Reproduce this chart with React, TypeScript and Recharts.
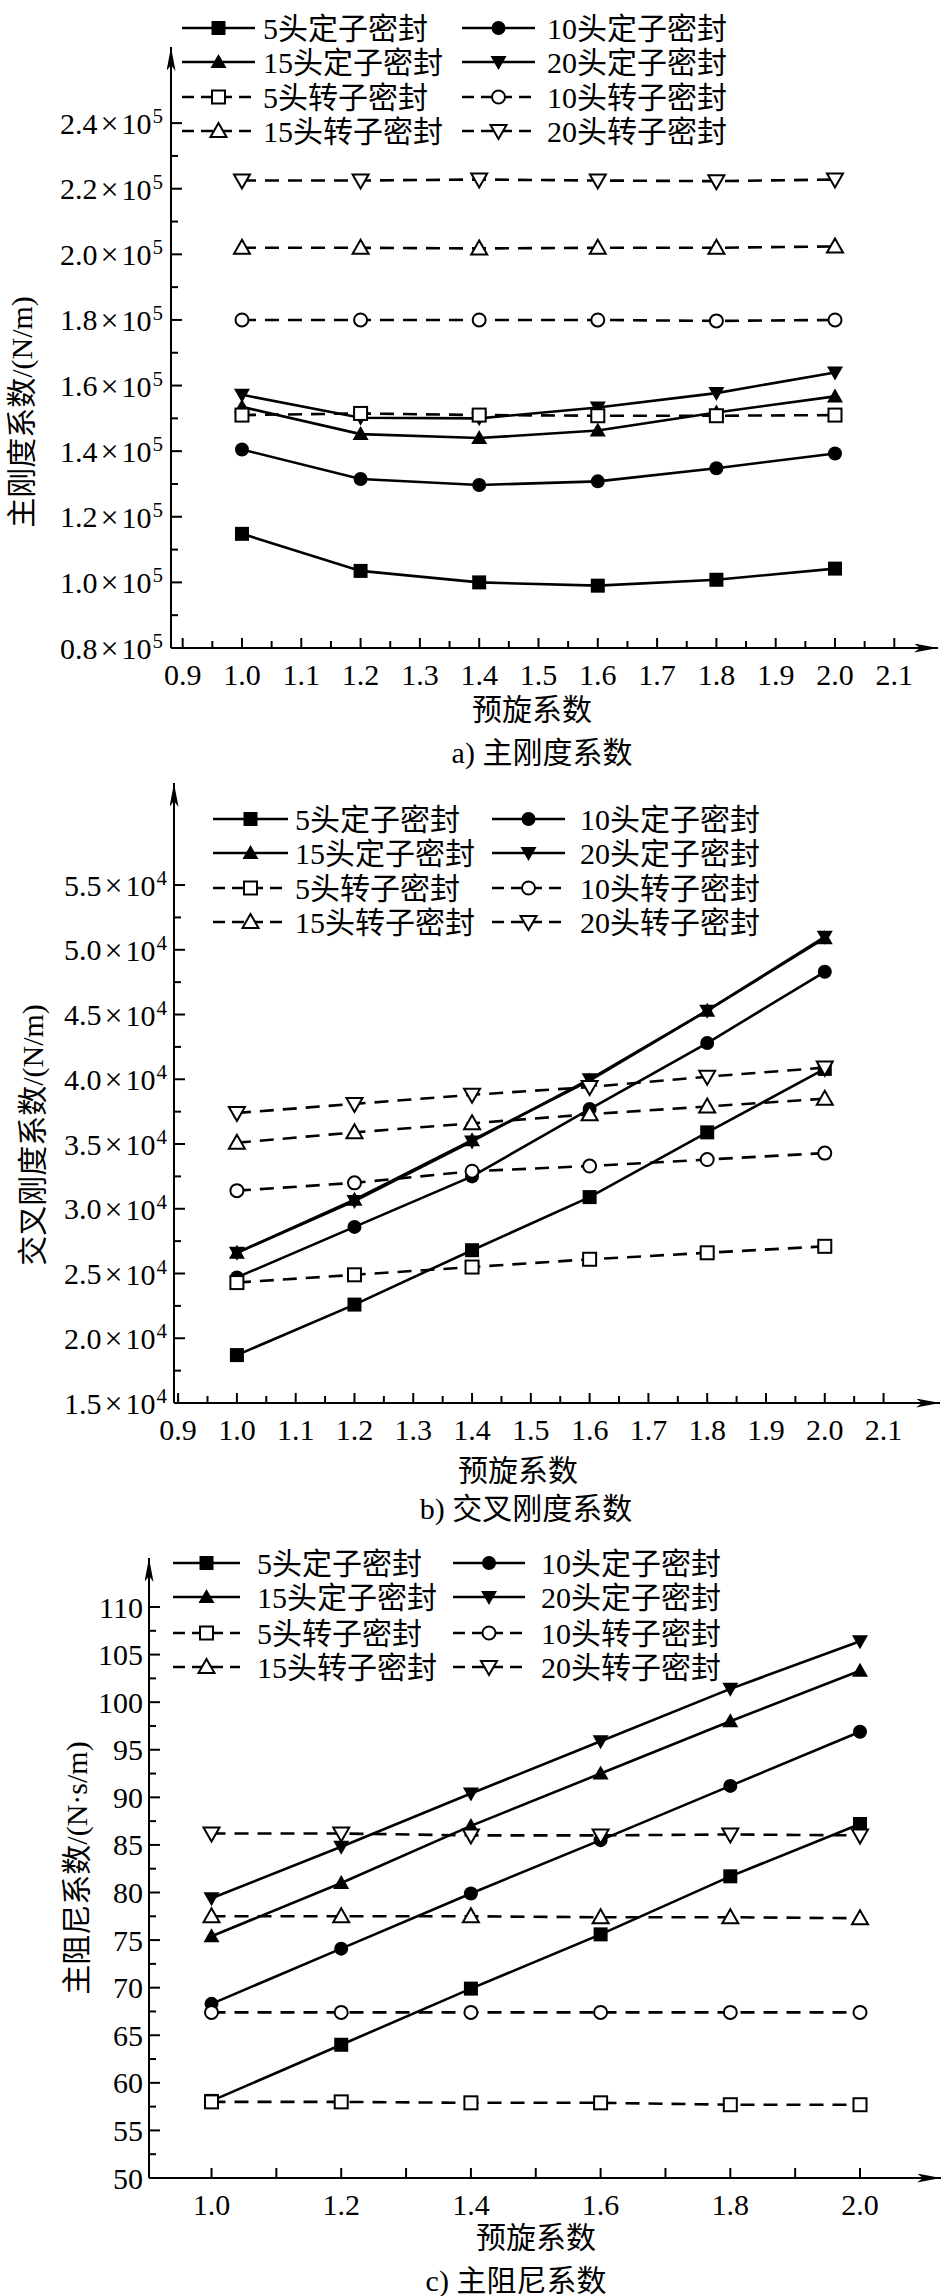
import React from 'react';
import { LineChart, Line, XAxis, YAxis } from 'recharts';

const FONT = "'Liberation Serif','Times New Roman','Noto Sans CJK SC',serif";

// ---------- shared data ----------
const xValues = [1.0, 1.2, 1.4, 1.6, 1.8, 2.0];
const seriesKeys = ['s5', 's10', 's15', 's20', 'r5', 'r10', 'r15', 'r20'];
const seriesNames = ['5头定子密封', '10头定子密封', '15头定子密封', '20头定子密封', '5头转子密封', '10头转子密封', '15头转子密封', '20头转子密封'];
const seriesShapes = ['square', 'circle', 'up', 'down', 'square', 'circle', 'up', 'down'];
const seriesFilled = [true, true, true, true, false, false, false, false];

// ---------- chart a: 主刚度系数 (N/m) ----------
const a_s5 = [114800, 103500, 100000, 99000, 100800, 104200];
const a_s10 = [140500, 131500, 129700, 130800, 134800, 139300];
const a_s15 = [153500, 145200, 144000, 146300, 151800, 156700];
const a_s20 = [157200, 150200, 150000, 153300, 157700, 164000];
const a_r5 = [151000, 151500, 151000, 150800, 150800, 151000];
const a_r10 = [180000, 180000, 180000, 180000, 179700, 180000];
const a_r15 = [202000, 202000, 201800, 202000, 202000, 202400];
const a_r20 = [222500, 222500, 222800, 222500, 222300, 222800];
const a_xTicks = [0.9, 0.95, 1.0, 1.05, 1.1, 1.15, 1.2, 1.25, 1.3, 1.35, 1.4, 1.45, 1.5, 1.55, 1.6, 1.65, 1.7, 1.75, 1.8, 1.85, 1.9, 1.95, 2.0, 2.05, 2.1];
const a_yTicks = [80000, 90000, 100000, 110000, 120000, 130000, 140000, 150000, 160000, 170000, 180000, 190000, 200000, 210000, 220000, 230000, 240000];

// ---------- chart b: 交叉刚度系数 (N/m) ----------
const b_s5 = [18700, 22600, 26800, 30900, 35900, 40800];
const b_s10 = [24700, 28600, 32500, 37700, 42800, 48300];
const b_s15 = [26600, 30700, 35300, 39900, 45300, 50900];
const b_s20 = [26600, 30600, 35200, 40000, 45300, 51000];
const b_r5 = [24300, 24900, 25500, 26100, 26600, 27100];
const b_r10 = [31400, 32000, 32900, 33300, 33800, 34300];
const b_r15 = [35100, 35900, 36600, 37300, 37900, 38500];
const b_r20 = [37400, 38100, 38800, 39400, 40200, 40900];
const b_xTicks = [0.9, 0.95, 1.0, 1.05, 1.1, 1.15, 1.2, 1.25, 1.3, 1.35, 1.4, 1.45, 1.5, 1.55, 1.6, 1.65, 1.7, 1.75, 1.8, 1.85, 1.9, 1.95, 2.0, 2.05, 2.1];
const b_yTicks = [15000, 17500, 20000, 22500, 25000, 27500, 30000, 32500, 35000, 37500, 40000, 42500, 45000, 47500, 50000, 52500, 55000];

// ---------- chart c: 主阻尼系数 (N·s/m) ----------
const c_s5 = [58.1, 64.0, 69.9, 75.6, 81.7, 87.2];
const c_s10 = [68.3, 74.1, 79.9, 85.5, 91.2, 96.9];
const c_s15 = [75.4, 81.0, 87.0, 92.5, 98.0, 103.3];
const c_s20 = [79.4, 84.8, 90.4, 95.9, 101.4, 106.4];
const c_r5 = [58.0, 58.0, 57.9, 57.9, 57.7, 57.7];
const c_r10 = [67.4, 67.4, 67.4, 67.4, 67.4, 67.4];
const c_r15 = [77.5, 77.5, 77.5, 77.4, 77.4, 77.3];
const c_r20 = [86.2, 86.2, 86.0, 86.0, 86.1, 86.0];
const c_xTicks = [1.0, 1.1, 1.2, 1.3, 1.4, 1.5, 1.6, 1.7, 1.8, 1.9, 2.0];
const c_yTicks = [50, 52.5, 55, 57.5, 60, 62.5, 65, 67.5, 70, 72.5, 75, 77.5, 80, 82.5, 85, 87.5, 90, 92.5, 95, 97.5, 100, 102.5, 105, 107.5, 110];

function buildRows(cols: number[][]) {
  return xValues.map((x, i) => {
    const row: any = { x };
    seriesKeys.forEach((k, j) => { row[k] = cols[j][i]; });
    return row;
  });
}

const dataA = buildRows([a_s5, a_s10, a_s15, a_s20, a_r5, a_r10, a_r15, a_r20]);
const dataB = buildRows([b_s5, b_s10, b_s15, b_s20, b_r5, b_r10, b_r15, b_r20]);
const dataC = buildRows([c_s5, c_s10, c_s15, c_s20, c_r5, c_r10, c_r15, c_r20]);

// ---------- markers ----------
function Marker({ cx, cy, shape, filled }: any) {
  if (cx == null || cy == null) return null;
  const fill = filled ? '#000' : '#fff';
  const sw = filled ? 0 : 2;
  if (shape === 'square') {
    const s = filled ? 14 : 13;
    return <rect x={cx - s / 2} y={cy - s / 2} width={s} height={s} fill={fill} stroke="#000" strokeWidth={sw} />;
  }
  if (shape === 'circle') {
    return <circle cx={cx} cy={cy} r={filled ? 7 : 6.5} fill={fill} stroke="#000" strokeWidth={sw} />;
  }
  const w = 16;
  if (shape === 'up') {
    return <path d={`M${cx - w / 2},${cy + 6} L${cx + w / 2},${cy + 6} L${cx},${cy - 8} Z`} fill={fill} stroke="#000" strokeWidth={sw} strokeLinejoin="miter" />;
  }
  return <path d={`M${cx - w / 2},${cy - 6} L${cx + w / 2},${cy - 6} L${cx},${cy + 8} Z`} fill={fill} stroke="#000" strokeWidth={sw} strokeLinejoin="miter" />;
}

// ---------- ticks ----------
function makeXTick(axisY: number, isMajor: (v: number) => boolean, labelled: (v: number) => boolean) {
  return (p: any) => {
    const x = p.payload.coordinate;
    const v = p.payload.value;
    const major = isMajor(v);
    return (
      <g>
        <line x1={x} x2={x} y1={axisY} y2={axisY - (major ? 10 : 7)} stroke="#000" strokeWidth={2} />
        {labelled(v) && (
          <text x={x} y={axisY + 26} textAnchor="middle" dominantBaseline="central" fontFamily={FONT} fontSize={30} fill="#000">
            {v.toFixed(1)}
          </text>
        )}
      </g>
    );
  };
}

function makeYTick(axisX: number, gap: number, isMajor: (v: number) => boolean, label: (v: number) => any) {
  return (p: any) => {
    const y = p.payload.coordinate;
    const v = p.payload.value;
    const major = isMajor(v);
    return (
      <g>
        <line x1={axisX} x2={axisX + (major ? 11 : 7)} y1={y} y2={y} stroke="#000" strokeWidth={2} />
        {major && (
          <text x={axisX - gap} y={y} textAnchor="end" dominantBaseline="central" fontFamily={FONT} fontSize={30} fill="#000">
            {label(v)}
          </text>
        )}
      </g>
    );
  };
}

const approxInt = (v: number) => Math.abs(v - Math.round(v)) < 1e-6;

function sciLabel(exp: number) {
  return (v: number) => (
    <>
      {(v / Math.pow(10, exp)).toFixed(1)}
      <tspan dx={3} fontSize={32}>×</tspan>
      <tspan dx={3}>10</tspan>
      <tspan dy={-7} dx={1} fontSize={21}>{exp}</tspan>
    </>
  );
}

// ---------- chart component ----------
function Plot({ top, height, data, axisX, plotTop, plotBottom, plotRight, xDomain, yDomain, xTicks, yTicks, xMajor, xLabelled, yMajor, yLabel, yGap }: any) {
  const yAxisWidth = 100;
  const xAxisHeight = 40;
  const margin = { top: plotTop, left: axisX - yAxisWidth, right: 948 - plotRight, bottom: height - plotBottom - xAxisHeight };
  return (
    <div style={{ position: 'absolute', left: 0, top, width: 948, height }}>
      <LineChart width={948} height={height} data={data} margin={margin}>
        <XAxis
          dataKey="x"
          type="number"
          domain={xDomain}
          allowDataOverflow
          ticks={xTicks}
          interval={0}
          height={xAxisHeight}
          tickLine={false}
          axisLine={{ stroke: '#000', strokeWidth: 2, markerEnd: 'url(#axisArrow)' }}
          tick={makeXTick(plotBottom, xMajor, xLabelled)}
        />
        <YAxis
          type="number"
          domain={yDomain}
          allowDataOverflow
          ticks={yTicks}
          interval={0}
          width={yAxisWidth}
          tickLine={false}
          axisLine={{ stroke: '#000', strokeWidth: 2, markerStart: 'url(#axisArrow)' }}
          tick={makeYTick(axisX, yGap, yMajor, yLabel)}
        />
        {seriesKeys.map((k, j) => (
          <Line
            key={k}
            dataKey={k}
            name={seriesNames[j]}
            type="linear"
            stroke="#000"
            strokeWidth={2.6}
            strokeDasharray={seriesFilled[j] ? undefined : '14 9'}
            isAnimationActive={false}
            dot={(p: any) => <Marker key={`${k}-${p.index}`} cx={p.cx} cy={p.cy} shape={seriesShapes[j]} filled={seriesFilled[j]} />}
            activeDot={false}
          />
        ))}
      </LineChart>
    </div>
  );
}

// ---------- legend & titles (overlay) ----------
function LegendBlock({ rows, c1, c2 }: any) {
  const items: any[] = [];
  seriesKeys.forEach((k, j) => {
    const row = Math.floor(j / 2);
    const col = j % 2 === 0 ? c1 : c2;
    const y = rows[row];
    const mid = (col[0] + col[1]) / 2;
    items.push(
      <g key={k}>
        <line x1={col[0]} x2={col[1]} y1={y} y2={y} stroke="#000" strokeWidth={2.6} strokeDasharray={seriesFilled[j] ? undefined : '12 7'} />
        <Marker cx={mid} cy={y} shape={seriesShapes[j]} filled={seriesFilled[j]} />
        <text x={col[2]} y={y} dominantBaseline="central" fontFamily={FONT} fontSize={30} fill="#000">{seriesNames[j]}</text>
      </g>
    );
  });
  return <g>{items}</g>;
}

function Title({ x, y, text, rotate }: any) {
  return (
    <text
      x={x}
      y={y}
      textAnchor="middle"
      dominantBaseline="central"
      fontFamily={FONT}
      fontSize={30}
      fill="#000"
      transform={rotate ? `rotate(-90 ${x} ${y})` : undefined}
    >
      {text}
    </text>
  );
}

export default function App() {
  return (
    <div style={{ position: 'absolute', left: 0, top: 0, width: 948, height: 2296, background: '#fff' }}>
      <svg width={0} height={0} style={{ position: 'absolute' }}>
        <defs>
          <marker id="axisArrow" viewBox="0 0 24 9" refX={24} refY={4.5} markerWidth={24} markerHeight={9} markerUnits="userSpaceOnUse" orient="auto-start-reverse">
            <path d="M0,0 L24,4.5 L0,9 L6,4.5 Z" fill="#000" />
          </marker>
        </defs>
      </svg>

      <Plot
        top={0}
        height={760}
        data={dataA}
        axisX={171}
        plotTop={47}
        plotBottom={648}
        plotRight={938}
        xDomain={[0.8803, 2.1737]}
        yDomain={[80000, 263200]}
        xTicks={a_xTicks}
        yTicks={a_yTicks}
        xMajor={(v: number) => approxInt(v * 10)}
        xLabelled={(v: number) => approxInt(v * 10)}
        yMajor={(v: number) => approxInt(v / 20000)}
        yLabel={sciLabel(5)}
        yGap={8}
      />
      <Plot
        top={760}
        height={760}
        data={dataB}
        axisX={174}
        plotTop={23}
        plotBottom={643}
        plotRight={940}
        xDomain={[0.893, 2.196]}
        yDomain={[15000, 62880]}
        xTicks={b_xTicks}
        yTicks={b_yTicks}
        xMajor={(v: number) => approxInt(v * 10)}
        xLabelled={(v: number) => approxInt(v * 10)}
        yMajor={(v: number) => approxInt(v / 5000)}
        yLabel={sciLabel(4)}
        yGap={7}
      />
      <Plot
        top={1520}
        height={776}
        data={dataC}
        axisX={149}
        plotTop={38}
        plotBottom={658}
        plotRight={941}
        xDomain={[0.9036, 2.1249]}
        yDomain={[50, 115.15]}
        xTicks={c_xTicks}
        yTicks={c_yTicks}
        xMajor={() => true}
        xLabelled={(v: number) => approxInt(v * 5)}
        yMajor={(v: number) => approxInt(v / 5)}
        yLabel={(v: number) => String(v)}
        yGap={6}
      />

      <svg width={948} height={2296} style={{ position: 'absolute', left: 0, top: 0, pointerEvents: 'none' }}>
        <LegendBlock rows={[28, 62, 97, 131]} c1={[182, 255, 263]} c2={[462, 535, 547]} />
        <Title x={21} y={412} text="主刚度系数/(N/m)" rotate />
        <Title x={532} y={709} text="预旋系数" />
        <Title x={542} y={752} text="a) 主刚度系数" />

        <LegendBlock rows={[819, 853, 888, 922]} c1={[213, 288, 295]} c2={[492, 565, 580]} />
        <Title x={32} y={1135} text="交叉刚度系数/(N/m)" rotate />
        <Title x={518} y={1470} text="预旋系数" />
        <Title x={526} y={1508} text="b) 交叉刚度系数" />

        <LegendBlock rows={[1563, 1597, 1633, 1667]} c1={[173, 240, 257]} c2={[453, 525, 541]} />
        <Title x={76} y={1868} text="主阻尼系数/(N·s/m)" rotate />
        <Title x={536} y={2237} text="预旋系数" />
        <Title x={516} y={2280} text="c) 主阻尼系数" />
      </svg>
    </div>
  );
}
